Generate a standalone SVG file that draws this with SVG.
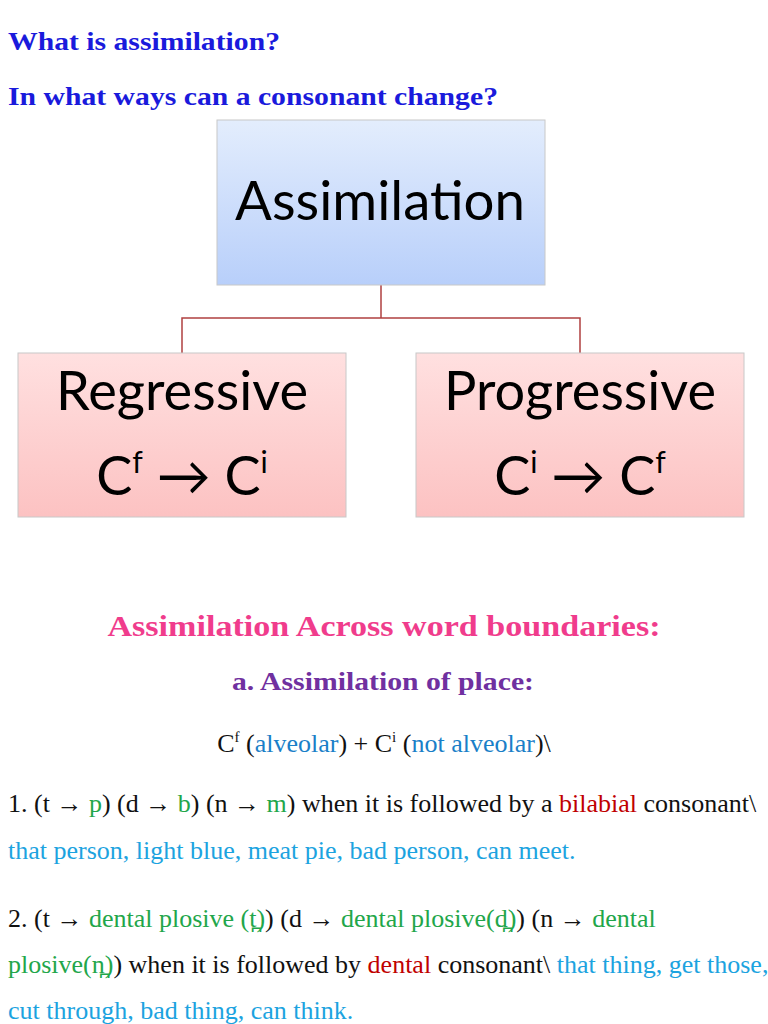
<svg xmlns="http://www.w3.org/2000/svg" width="768" height="1024" viewBox="0 0 768 1024">
<style>
.h{font-family:"Liberation Serif",serif;font-weight:bold;font-size:26px;fill:#1a1adc}
.t{font-family:"Liberation Serif",serif;font-size:26px;fill:#111}
.g{fill:#22a64a}.b{fill:#1a7fc8}.c{fill:#1ca3e0}.r{fill:#c00000}
.n{font-family:Lato,"Open Sans",sans-serif;fill:#000;text-anchor:middle}
.box{stroke:#c8c8c8;stroke-width:1}
</style>
<defs>
<linearGradient id="blue" x1="0" y1="0" x2="0" y2="1"><stop offset="0" stop-color="#e3edfd"/><stop offset="1" stop-color="#b8cffa"/></linearGradient>
<linearGradient id="pink" x1="0" y1="0" x2="0" y2="1"><stop offset="0" stop-color="#ffe0e0"/><stop offset="1" stop-color="#fcc2c2"/></linearGradient>
</defs>
<rect width="768" height="1024" fill="#fff"/>
<text class="h" x="8" y="50" textLength="272" lengthAdjust="spacingAndGlyphs">What is assimilation?</text>
<text class="h" x="8" y="105" textLength="490" lengthAdjust="spacingAndGlyphs">In what ways can a consonant change?</text>
<g id="connectors" fill="none" stroke="#b04040" stroke-width="1.5">
<path d="M381 285V318M182 353V318H580V353"/>
</g>
<g id="assimilation">
<rect class="box" x="217" y="120" width="328" height="165" fill="url(#blue)"/>
<text class="n" x="380" y="220" font-size="54" textLength="290" lengthAdjust="spacingAndGlyphs">Assimilation</text>
</g>
<g id="regressive">
<rect class="box" x="18" y="353" width="328" height="164" fill="url(#pink)"/>
<text class="n" x="182" y="410" font-size="54" textLength="252" lengthAdjust="spacingAndGlyphs">Regressive</text>
<text class="n" x="182" y="495" font-size="54">C<tspan font-size="30" dy="-22">f</tspan><tspan dy="22"> → C</tspan><tspan font-size="30" dy="-22">i</tspan></text>
</g>
<g id="progressive">
<rect class="box" x="416" y="353" width="328" height="164" fill="url(#pink)"/>
<text class="n" x="580" y="410" font-size="54" textLength="272" lengthAdjust="spacingAndGlyphs">Progressive</text>
<text class="n" x="580" y="495" font-size="54">C<tspan font-size="30" dy="-22">i</tspan><tspan dy="22"> → C</tspan><tspan font-size="30" dy="-22">f</tspan></text>
</g>
<text x="384" y="636" text-anchor="middle" font-family="Liberation Serif,serif" font-weight="bold" font-size="30" fill="#f03c8c" textLength="553" lengthAdjust="spacingAndGlyphs">Assimilation Across word boundaries:</text>
<text x="383" y="690" text-anchor="middle" font-family="Liberation Serif,serif" font-weight="bold" font-size="26" fill="#7030a0" textLength="302" lengthAdjust="spacingAndGlyphs">a. Assimilation of place:</text>
<text class="t" x="384" y="752" text-anchor="middle">C<tspan font-size="15" dy="-10">f</tspan><tspan dy="10"> (</tspan><tspan class="b">alveolar</tspan>) + C<tspan font-size="15" dy="-10">i</tspan><tspan dy="10"> (</tspan><tspan class="b">not alveolar</tspan>)\</text>
<text class="t" x="8" y="812">1. (t → <tspan class="g">p</tspan>) (d → <tspan class="g">b</tspan>) (n → <tspan class="g">m</tspan>) when it is followed by a <tspan class="r">bilabial</tspan> consonant\</text>
<text class="t c" x="8" y="859">that person, light blue, meat pie, bad person, can meet.</text>
<text class="t" x="8" y="927">2. (t → <tspan class="g">dental plosive (t̪)</tspan>) (d → <tspan class="g">dental plosive(d̪)</tspan>) (n → <tspan class="g">dental</tspan></text>
<text class="t" x="8" y="973"><tspan class="g">plosive(n̪)</tspan>) when it is followed by <tspan class="r">dental</tspan> consonant\ <tspan class="c">that thing, get those,</tspan></text>
<text class="t c" x="8" y="1019">cut through, bad thing, can think.</text>
</svg>
